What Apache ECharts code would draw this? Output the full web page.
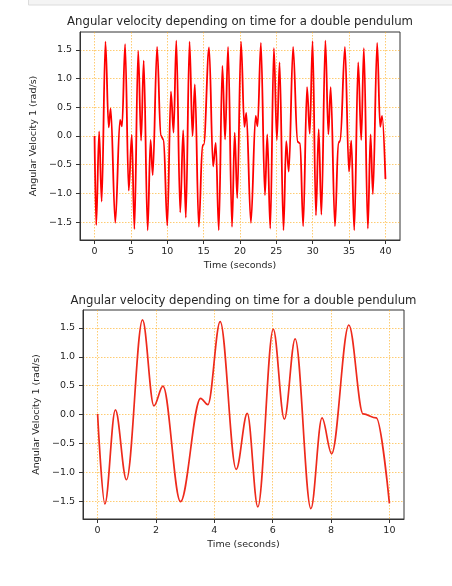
<!DOCTYPE html>
<html><head><meta charset="utf-8">
<script src="https://cdn.jsdelivr.net/npm/echarts@6/dist/echarts.min.js"></script>
<style>html,body{margin:0;padding:0;background:#fff}#c{width:452px;height:586px}</style>
</head><body><div id="c"></div>
<script>
const titleText = 'Angular velocity depending on time for a double pendulum';
const xName = 'Time (seconds)';
const yName = 'Angular Velocity 1 (rad/s)';

// Top panel: 0-40 s
const topTime = [0,0.23,0.63,0.98,1.5,1.94,2.22,2.85,3.5,3.78,4.2,4.7,5.12,5.48,6.0,6.4,6.76,7.3,7.7,8.0,8.6,9.1,9.5,10.0,
  10.5,10.87,11.24,11.78,12.19,12.55,13.06,13.47,13.79,14.34,14.84,15.02,15.75,16.3,16.67,17.08,17.58,17.95,18.36,18.9,19.27,19.62,
  20.14,20.6,20.87,21.5,22.15,22.42,22.87,23.43,23.75,24.16,24.66,25.07,25.44,25.98,26.35,26.71,27.3,27.9,28.27,28.68,29.22,29.59,
  29.98,30.44,30.82,31.19,31.74,32.15,32.47,33.06,33.52,33.79,34.43,34.98,35.3,35.71,36.25,36.67,37.03,37.58,37.95,38.27,38.86,39.27,39.54,40.0];
const topOmega = [0,-1.55,0.08,-1.14,1.64,0.15,0.48,-1.51,0.28,0.17,1.6,-0.95,0.02,-1.62,1.48,-0.08,1.31,-1.64,-0.07,-0.68,1.55,0.01,-0.07,-1.56,
  0.77,0.06,1.66,-1.33,0.1,-1.42,1.64,0.0,0.9,-1.58,-0.16,-0.15,1.54,-0.53,-0.12,-1.64,1.22,-0.06,1.55,-1.58,0.06,-1.08,
  1.64,0.16,0.4,-1.51,0.35,0.17,1.62,-1.03,0.03,-1.61,1.53,-0.07,1.28,-1.64,-0.09,-0.62,1.55,-0.1,-0.13,-1.57,0.85,0.04,
  1.65,-1.38,0.12,-1.37,1.66,0.03,0.85,-1.57,-0.12,-0.08,1.55,-0.62,-0.08,-1.64,1.28,-0.07,1.53,-1.61,0.03,-1.01,1.62,0.16,0.35,-0.75];

// Bottom panel: 0-10 s
const bottomTime = [0,0.25,0.61,0.99,1.54,1.93,2.24,2.84,3.53,3.78,4.2,4.75,5.13,5.49,6.02,6.4,6.77,7.31,7.69,8.02,8.61,9.1,9.55,10.0];
const bottomOmega = [0.01,-1.55,0.08,-1.13,1.64,0.15,0.49,-1.51,0.28,0.17,1.61,-0.95,0.02,-1.6,1.48,-0.08,1.31,-1.63,-0.06,-0.68,1.55,0.01,-0.06,-1.54];

const topXTicks = [0,5,10,15,20,25,30,35,40];
const bottomXTicks = [0,2,4,6,8,10];
const yTicks = [-1.5,-1.0,-0.5,0.0,0.5,1.0,1.5];

const FONT = 'DejaVu Sans';
const TXT = '#262626';
const AX = '#333333';
const gridLine = {show:true, lineStyle:{color:'rgba(255,170,20,0.6)', width:1, type:[1.5,1.5]}};

function fmtY(v){ return (v < 0 ? '\u2212' : '') + Math.abs(v).toFixed(1); }

function xAxisOf(idx, min, max, ticks, gap){
  return {
    type:'value', gridIndex: idx, min, max,
    name: xName, nameLocation:'middle', nameGap: gap,
    nameTextStyle:{fontFamily:FONT, fontSize:9.5, color:TXT},
    axisLine:{show:true, onZero:false, lineStyle:{color:AX, width:1}},
    axisTick:{show:true, inside:false, length:4, customValues: ticks, lineStyle:{color:AX}},
    axisLabel:{show:true, customValues: ticks, margin:7, fontFamily:FONT, fontSize:9.5, color:TXT, formatter: v => String(v)},
    splitLine: gridLine
  };
}
function yAxisOf(idx){
  return {
    type:'value', gridIndex: idx, min:-1.81, max:1.81,
    name: yName, nameLocation:'middle', nameGap: 36,
    nameTextStyle:{fontFamily:FONT, fontSize:9.5, color:TXT},
    axisLine:{show:true, onZero:false, lineStyle:{color:AX, width:1}},
    axisTick:{show:true, inside:false, length:4, customValues: yTicks, lineStyle:{color:AX}},
    axisLabel:{show:true, customValues: yTicks, margin:8, fontFamily:FONT, fontSize:9.5, color:TXT, formatter: fmtY},
    splitLine: gridLine
  };
}

const chart = echarts.init(document.getElementById('c'), null, {renderer:'canvas'});
chart.setOption({
  animation:false,
  backgroundColor:'#ffffff',
  grid:[
    {left:80, top:32, width:320, height:208, show:true, borderColor:AX, borderWidth:1, backgroundColor:'transparent'},
    {left:83, top:310, width:321, height:209, show:true, borderColor:AX, borderWidth:1, backgroundColor:'transparent'}
  ],
  xAxis:[ xAxisOf(0, -2, 42, topXTicks, 21), xAxisOf(1, -0.5, 10.5, bottomXTicks, 20.5) ],
  yAxis:[ yAxisOf(0), yAxisOf(1) ],
  graphic:[
    {type:'rect', shape:{x:28.5, y:-2, width:430, height:7}, style:{fill:'#f4f4f4', stroke:'#dcdcdc', lineWidth:1}, silent:true},
    {type:'text', x:240, y:22, style:{text:titleText, fontFamily:FONT, fontSize:11.7, fill:TXT, align:'center', verticalAlign:'middle'}},
    {type:'text', x:243.5, y:300.5, style:{text:titleText, fontFamily:FONT, fontSize:11.7, fill:TXT, align:'center', verticalAlign:'middle'}}
  ],
  series:[
    {type:'line', xAxisIndex:0, yAxisIndex:0, data: topTime.map((t,i)=>[t, topOmega[i]]),
     showSymbol:false, smooth:0.35, smoothMonotone:'x', lineStyle:{color:'#ff0000', width:1.8}, itemStyle:{color:'#ff0000'}},
    {type:'line', xAxisIndex:1, yAxisIndex:1, data: bottomTime.map((t,i)=>[t, bottomOmega[i]]),
     showSymbol:false, smooth:0.35, smoothMonotone:'x', lineStyle:{color:'#ee2a1c', width:1.7}, itemStyle:{color:'#ee2a1c'}}
  ]
});
</script>
</body></html>
